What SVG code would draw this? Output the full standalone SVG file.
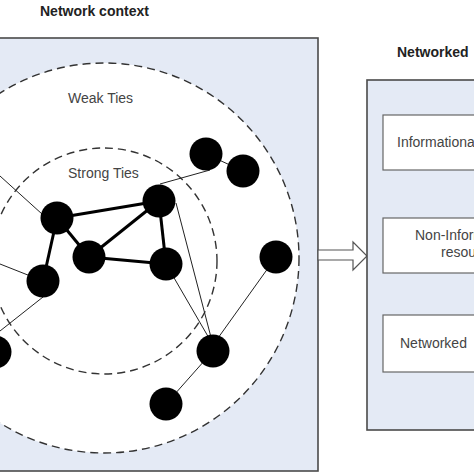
<svg xmlns="http://www.w3.org/2000/svg" width="474" height="474" viewBox="0 0 474 474">
<style>
.panel{fill:#e4eaf5;stroke:#4a4a4a;stroke-width:1.6}
.box{fill:#ffffff;stroke:#666;stroke-width:1.2}
.dash{fill:none;stroke:#333;stroke-width:1.4;stroke-dasharray:8 5}
.title{font-family:"Liberation Sans",Arial,sans-serif;font-size:14px;font-weight:bold;fill:#222}
.lbl{font-family:"Liberation Sans",Arial,sans-serif;font-size:14px;fill:#444}
.node{fill:#000}
.strong{stroke:#000;stroke-width:3;fill:none}
.weak{stroke:#222;stroke-width:1;fill:none}
</style>
<rect width="474" height="474" fill="#ffffff"/>
<text class="title" x="40" y="16">Network context</text>
<rect class="panel" x="-2" y="38" width="320" height="433"/>
<circle cx="104" cy="258" r="195" fill="#ffffff" stroke="none"/>
<circle class="dash" cx="104" cy="258" r="195"/>
<circle class="dash" cx="104" cy="261" r="113"/>
<text class="lbl" x="68" y="103">Weak Ties</text>
<text class="lbl" x="68" y="178">Strong Ties</text>
<g id="connectors">
<line class="weak" x1="0" y1="176" x2="42" y2="214"/>
<line class="weak" x1="0" y1="264" x2="43" y2="281"/>
<line class="weak" x1="43" y1="297" x2="0" y2="331"/>
<line class="weak" x1="160" y1="184" x2="210" y2="170"/>
<line class="weak" x1="206" y1="154" x2="243" y2="171"/>
<line class="weak" x1="176" y1="203" x2="213" y2="345"/>
<line class="weak" x1="166" y1="264" x2="213" y2="345"/>
<line class="weak" x1="276" y1="257" x2="213" y2="345"/>
<line class="weak" x1="213" y1="351" x2="166" y2="404"/>
<line class="strong" x1="57" y1="218" x2="159" y2="201"/>
<line class="strong" x1="57" y1="218" x2="43" y2="281"/>
<line class="strong" x1="57" y1="218" x2="89" y2="257"/>
<line class="strong" x1="89" y1="257" x2="159" y2="201"/>
<line class="strong" x1="89" y1="257" x2="166" y2="264"/>
<line class="strong" x1="159" y1="201" x2="166" y2="264"/>
</g>
<g id="nodeA"><circle class="node" cx="57" cy="218" r="16.5"/></g>
<g id="nodeB"><circle class="node" cx="159" cy="201" r="16.5"/></g>
<g id="nodeC"><circle class="node" cx="89" cy="257" r="16.5"/></g>
<g id="nodeD"><circle class="node" cx="166" cy="264" r="16.5"/></g>
<g id="nodeE"><circle class="node" cx="43" cy="281" r="16.5"/></g>
<g id="nodeF"><circle class="node" cx="206" cy="154" r="16.5"/></g>
<g id="nodeG"><circle class="node" cx="243" cy="171" r="16.5"/></g>
<g id="nodeH"><circle class="node" cx="276" cy="257" r="16.5"/></g>
<g id="nodeI"><circle class="node" cx="213" cy="351" r="16.5"/></g>
<g id="nodeJ"><circle class="node" cx="166" cy="404" r="16.5"/></g>
<g id="nodeK"><circle class="node" cx="-5" cy="352" r="16.5"/></g>
<g id="arrow"><polygon points="318,250 353,250 353,242 367,256 353,270 353,260 318,260" fill="#ffffff" stroke="#555" stroke-width="1.2"/></g>
<text class="title" x="397" y="57">Networked</text>
<rect class="panel" x="367" y="80" width="120" height="350"/>
<g id="box1"><rect class="box" x="383" y="115" width="100" height="55"/><text class="lbl" x="397" y="147">Informational</text></g>
<g id="box2"><rect class="box" x="383" y="218" width="100" height="55"/><text class="lbl" x="415" y="240">Non-Informational</text><text class="lbl" x="441" y="257">resources</text></g>
<g id="box3"><rect class="box" x="383" y="315" width="100" height="57"/><text class="lbl" x="400" y="348">Networked</text></g>
</svg>
